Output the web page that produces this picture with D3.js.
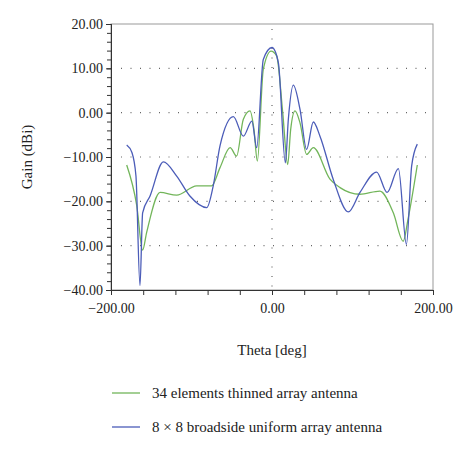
<!DOCTYPE html>
<html>
<head>
<meta charset="utf-8">
<script src="https://cdn.jsdelivr.net/npm/d3@7"></script>
<style>
  body { margin: 0; background: #fff; }
  text { font-family: "Liberation Serif", "DejaVu Serif", serif; fill: #222; }
</style>
</head>
<body>
<svg width="474" height="453"></svg>
<script>
// data (theta deg, gain dBi)
var thinnedTheta = [-180.5, -168, -160.7, -155.7, -139, -118.4, -93.6, -75, -64.6, -52, -44, -35.6, -27.3, -22.4, -18.2, -10.8, -1.2, 5.8, 13.3, 19.5, 23.2, 28.6, 34.8, 43, 51.3, 72, 84.5, 109, 134, 150.7, 163, 169, 180.5]
var thinnedGain = [-11.8, -21, -31, -27, -18, -18.6, -16.5, -16.5, -12.4, -7.9, -9.8, -1.5, 0.4, -3.8, -10.9, 9.8, 13.9, 12.8, 0, -11.7, -3.8, 0.4, -2.3, -9.4, -7.9, -15, -16.9, -18.4, -17.7, -22.6, -29, -24, -11.8]
var uniformTheta = [-180.5, -174, -169, -164, -160.7, -151.5, -135, -118.4, -102, -81, -73, -64.6, -48, -35.6, -25, -19, -10.8, 0, 7.9, 16.6, 20.3, 26.5, 34.8, 43, 51.3, 59.6, 76, 94.8, 109.3, 130, 143, 157, 167, 173.5, 180.5]
var uniformGain = [-7.3, -9, -14.3, -39, -22.6, -18.8, -11.1, -14.3, -18.8, -21.4, -16.5, -7.5, -0.9, -5.3, -1.9, -7.9, 12, 14.7, 11.3, -11.3, -1.5, 6.2, 0.75, -8.3, -2.1, -5.3, -15, -22.4, -18, -13.4, -18, -12.6, -29.7, -12, -7.1]
var seriesNames = ['34 elements thinned array antenna', '8 \u00d7 8 broadside uniform array antenna']
var seriesColors = ['#72b55a', '#4b5cb8']
var yTicks = [20, 10, 0, -10, -20, -30, -40]
var xLabels = [-200, 0, 200]

var svg = d3.select('svg')
var pLeft = 111, pRight = 433, pTop = 24, pBottom = 290

var x = d3.scaleLinear().domain([-200, 200]).range([pLeft, pRight])
var y = d3.scaleLinear().domain([-40, 20]).range([pBottom, pTop])

// frame
svg.append('rect').attr('x', pLeft).attr('y', pTop).attr('width', pRight - pLeft).attr('height', pBottom - pTop)
  .attr('fill', 'none').attr('stroke', '#999').attr('stroke-width', 1)

// dotted grid
svg.append('g').selectAll('line').data([10, 0, -10, -20, -30]).enter().append('line')
  .attr('x1', pLeft + 10).attr('x2', pRight - 5)
  .attr('y1', d => y(d)).attr('y2', d => y(d))
  .attr('stroke', '#666').attr('stroke-width', 1.2).attr('stroke-dasharray', '1,8.5')
svg.append('line').attr('x1', x(0)).attr('x2', x(0)).attr('y1', pTop + 5).attr('y2', pBottom)
  .attr('stroke', '#666').attr('stroke-width', 1.2).attr('stroke-dasharray', '1,8.5')

// axes
var yAxis = svg.append('g').attr('transform', 'translate(' + pLeft + ',0)')
  .call(d3.axisLeft(y).tickValues(d3.range(-40, 20.1, 2)).tickSize(4).tickFormat(''))
yAxis.append('g').call(d3.axisLeft(y).tickValues(yTicks).tickSize(5).tickFormat(d3.format('.2f')))

var xAxis = svg.append('g').attr('transform', 'translate(0,' + pBottom + ')')
  .call(d3.axisBottom(x).tickValues(d3.range(-200, 200.1, 40)).tickSize(5).tickFormat(''))
xAxis.append('g').call(d3.axisBottom(x).tickValues(xLabels).tickSize(5).tickPadding(8).tickFormat(d3.format('.2f')))
svg.selectAll('.domain').attr('stroke', '#333')
svg.selectAll('.tick line').attr('stroke', '#333')
svg.selectAll('text').style('font-size', '14px').style('font-family', '"Liberation Serif", serif').attr('fill', '#222')

// curves
var line = d3.line().x(d => x(d[0])).y(d => y(d[1])).curve(d3.curveMonotoneX)
var series = [d3.zip(thinnedTheta, thinnedGain), d3.zip(uniformTheta, uniformGain)]
svg.append('g').selectAll('path').data(series).enter().append('path')
  .attr('d', line).attr('fill', 'none')
  .attr('stroke', (d, i) => seriesColors[i]).attr('stroke-width', 1.3)

// labels
svg.append('text').attr('x', x(0)).attr('y', 355).attr('text-anchor', 'middle')
  .style('font-size', '15px').text('Theta [deg]')
svg.append('text').attr('transform', 'translate(32,' + ((pTop + pBottom) / 2) + ') rotate(-90)')
  .attr('text-anchor', 'middle').style('font-size', '15px').text('Gain (dBi)')

// legend
var lg = svg.append('g').selectAll('g').data(seriesNames).enter().append('g')
  .attr('transform', (d, i) => 'translate(112,' + (393 + i * 34) + ')')
lg.append('line').attr('x1', 0).attr('x2', 28).attr('stroke', (d, i) => seriesColors[i]).attr('stroke-width', 1.3)
lg.append('text').attr('x', 40).attr('y', 5).style('font-size', '15px').text(d => d)
</script>
</body>
</html>
